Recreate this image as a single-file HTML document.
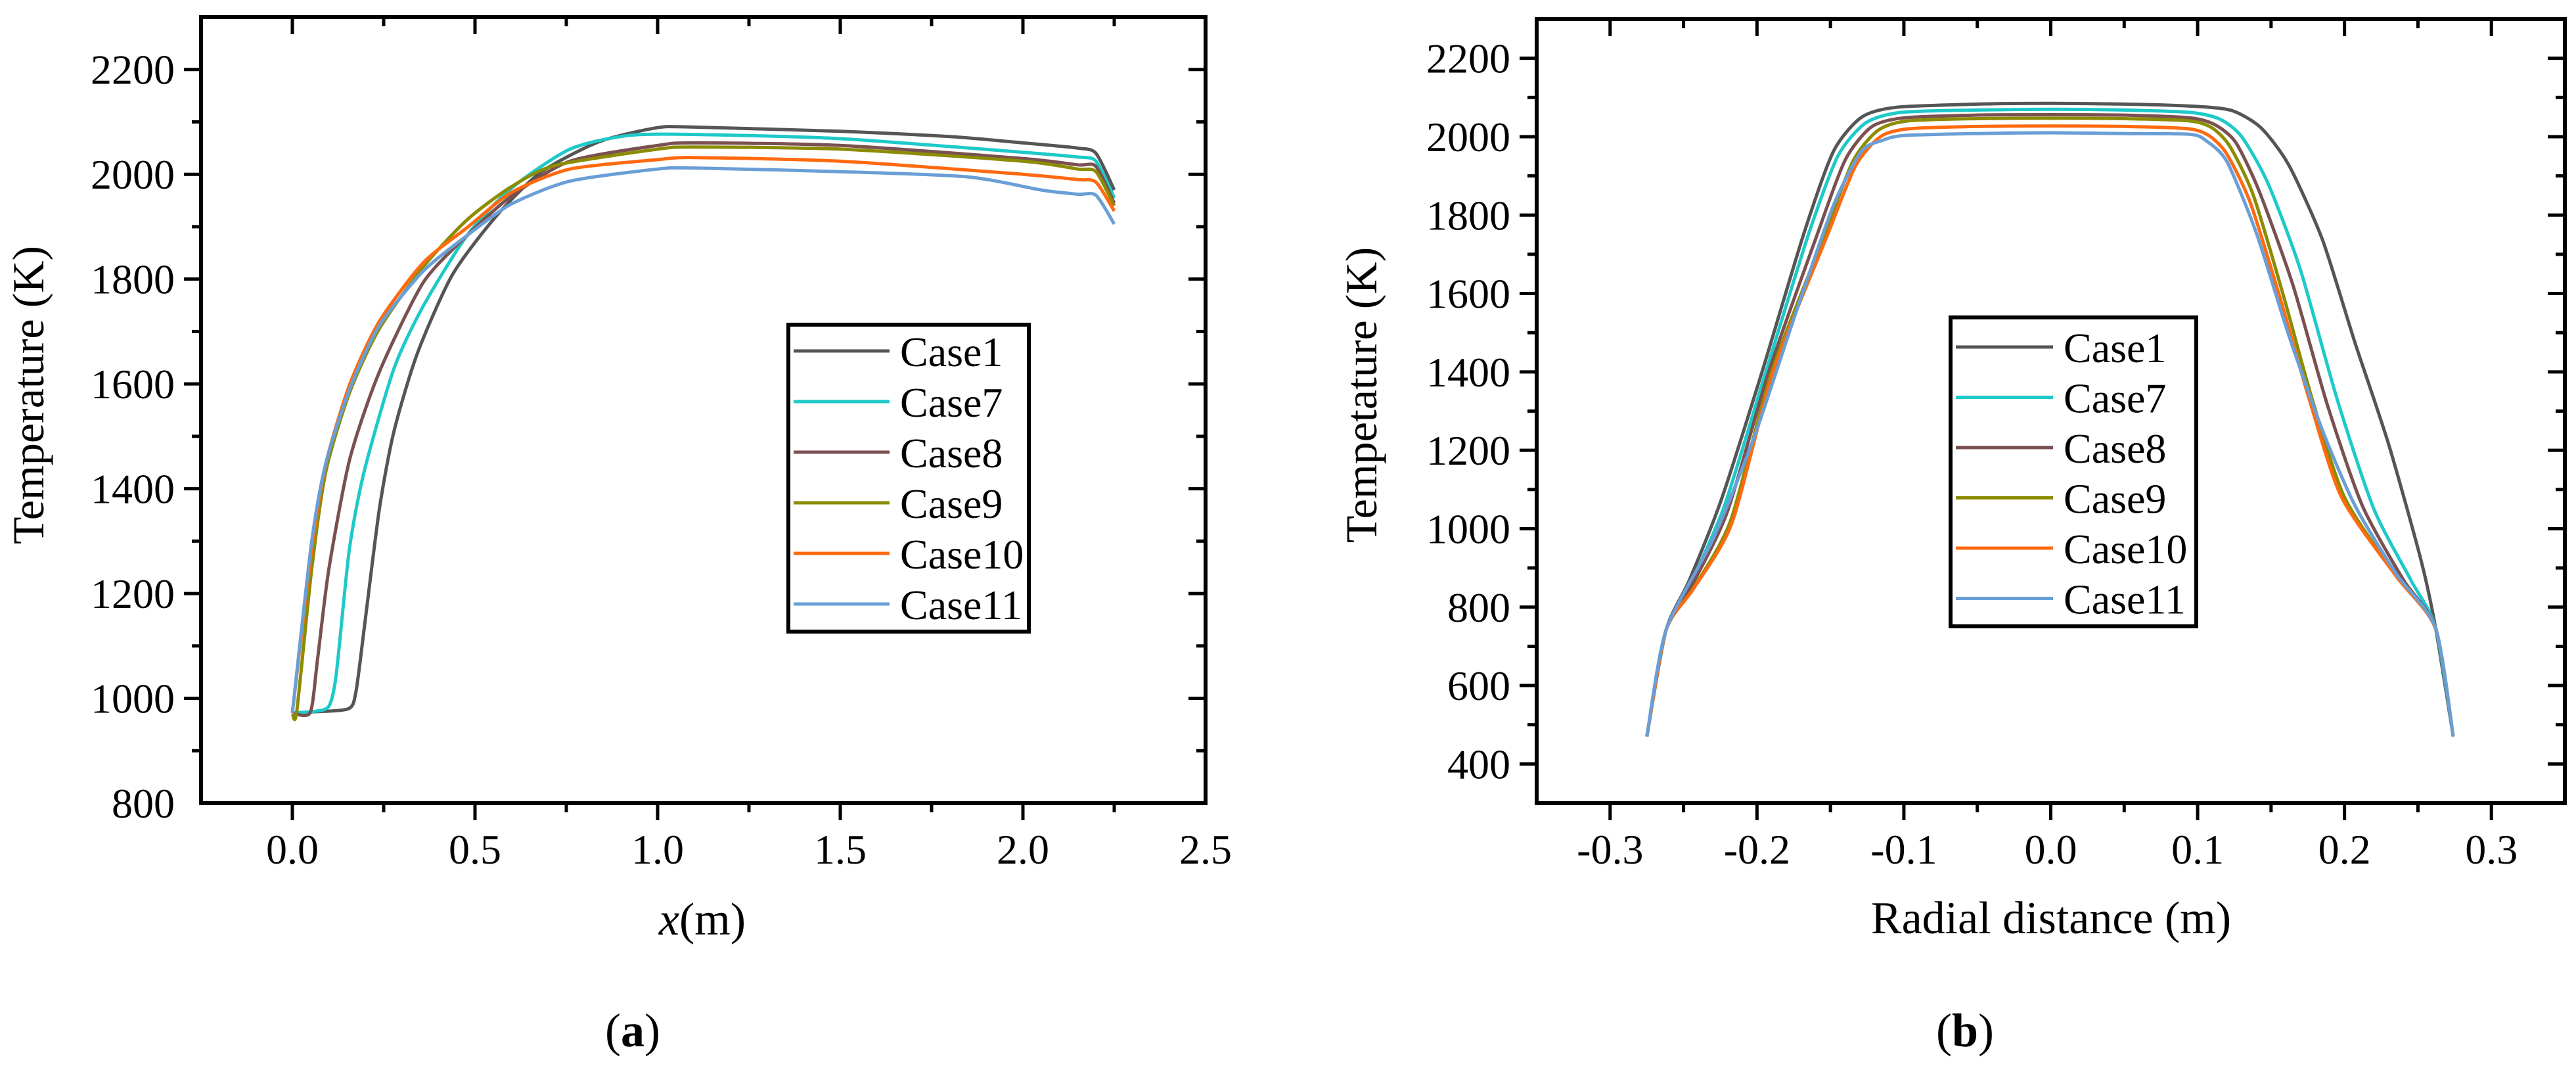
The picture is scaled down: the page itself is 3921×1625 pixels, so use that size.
<!DOCTYPE html>
<html>
<head>
<meta charset="utf-8">
<style>
html,body{margin:0;padding:0;background:#fff;}
svg{display:block;}
text{font-family:"Liberation Serif",serif;fill:#000;}
</style>
</head>
<body>
<svg id="fig" width="3921" height="1625" viewBox="0 0 3921 1625" xmlns="http://www.w3.org/2000/svg"></svg>
<script>
// ---------- Data: panel (a) temperature along x ----------
const seriesNames = ["Case1","Case7","Case8","Case9","Case10","Case11"];
const seriesColors = ["#555555","#1ec9c9","#7a5050","#8c8c00","#ff6a10","#6a9ed6"];

const aX_case1 = [0,0.05,0.153,0.174,0.197,0.238,0.278,0.342,0.438,0.558,0.679,0.839,1.0,1.1,1.5,1.8,2.0,2.15,2.2,2.25];
const aT_case1 = [972,974,980,1012,1135,1360,1509,1658,1808,1920,2003,2062,2089,2090,2082,2072,2060,2050,2040,1970];
const aX_case7 = [0,0.06,0.10,0.12,0.156,0.197,0.278,0.358,0.478,0.599,0.76,0.92,1.1,1.5,2.0,2.15,2.2,2.25];
const aT_case7 = [972,975,985,1045,1284,1434,1629,1748,1883,1973,2048,2074,2076,2068,2042,2033,2025,1955];
const aX_case8 = [0,0.049,0.069,0.10,0.157,0.237,0.358,0.478,0.599,0.76,1.0,1.1,1.5,2.0,2.15,2.2,2.25];
const aT_case8 = [972,973,1075,1247,1456,1621,1793,1883,1958,2025,2055,2060,2055,2030,2018,2015,1945];
const aX_case9 = [0,0.012,0.053,0.092,0.157,0.237,0.358,0.478,0.599,0.72,1.0,1.1,1.5,2.0,2.15,2.2,2.25];
const aT_case9 = [972,975,1247,1434,1584,1704,1823,1913,1976,2017,2048,2052,2048,2025,2010,2005,1940];
const aX_case10 = [0,0.053,0.092,0.157,0.237,0.358,0.478,0.599,0.76,1.0,1.1,1.5,2.0,2.15,2.2,2.25];
const aT_case10 = [972,1284,1449,1599,1718,1831,1898,1965,2010,2028,2032,2025,2000,1990,1985,1930];
const aX_case11 = [0,0.053,0.092,0.157,0.237,0.358,0.478,0.599,0.76,1.0,1.1,1.5,1.85,2.05,2.15,2.2,2.25];
const aT_case11 = [972,1300,1450,1590,1710,1815,1883,1943,1987,2010,2012,2005,1995,1970,1962,1960,1905];

// ---------- Data: panel (b) radial temperature ----------
const bX_case1 = [-0.275,-0.262,-0.246,-0.224,-0.196,-0.168,-0.148,-0.129,-0.105,-0.05,0,0.05,0.095,0.123,0.143,0.162,0.185,0.207,0.230,0.252,0.262,0.274];
const bT_case1 = [470,740,869,1077,1407,1754,1962,2049,2075,2083,2085,2083,2078,2067,2023,1928,1737,1476,1216,921,747,470];
const bX_case7 = [-0.275,-0.262,-0.245,-0.222,-0.194,-0.165,-0.145,-0.126,-0.102,-0.05,0,0.05,0.095,0.115,0.13,0.148,0.17,0.195,0.22,0.245,0.262,0.274];
const bT_case7 = [470,740,862,1060,1400,1750,1950,2035,2062,2068,2070,2068,2062,2045,2000,1880,1660,1330,1050,870,747,470];
const bX_case8 = [-0.275,-0.262,-0.244,-0.22,-0.192,-0.16,-0.14,-0.122,-0.1,-0.05,0,0.05,0.095,0.112,0.126,0.142,0.165,0.188,0.212,0.24,0.262,0.274];
const bT_case8 = [470,740,858,1045,1400,1740,1940,2025,2048,2055,2056,2055,2048,2030,1985,1860,1620,1320,1060,870,747,470];
const bX_case9 = [-0.275,-0.262,-0.243,-0.218,-0.19,-0.155,-0.135,-0.118,-0.098,-0.05,0,0.05,0.095,0.11,0.122,0.138,0.158,0.178,0.2,0.235,0.262,0.274];
const bT_case9 = [470,740,850,1020,1400,1740,1935,2015,2040,2046,2047,2046,2040,2022,1975,1850,1600,1330,1080,880,745,470];
const bX_case10 = [-0.275,-0.262,-0.243,-0.217,-0.189,-0.153,-0.133,-0.116,-0.097,-0.05,0,0.05,0.094,0.108,0.12,0.136,0.156,0.176,0.198,0.235,0.262,0.274];
const bT_case10 = [470,740,848,1015,1400,1740,1925,2000,2020,2026,2027,2026,2020,2002,1955,1830,1590,1330,1080,880,745,470];
const bX_case11 = [-0.275,-0.262,-0.23,-0.202,-0.174,-0.148,-0.129,-0.115,-0.1,-0.05,0,0.05,0.095,0.106,0.12,0.14,0.162,0.185,0.207,0.235,0.262,0.274];
const bT_case11 = [470,740,973,1233,1546,1824,1962,1990,2003,2008,2010,2008,2006,1989,1936,1754,1494,1251,1060,886,747,470];

const aXTicks = [0,0.5,1.0,1.5,2.0,2.5];
const aXTickLabels = ["0.0","0.5","1.0","1.5","2.0","2.5"];
const aYTicks = [800,1000,1200,1400,1600,1800,2000,2200];
const bXTicks = [-0.3,-0.2,-0.1,0,0.1,0.2,0.3];
const bXTickLabels = ["-0.3","-0.2","-0.1","0.0","0.1","0.2","0.3"];
const bYTicks = [400,600,800,1000,1200,1400,1600,1800,2000,2200];

const NS = "http://www.w3.org/2000/svg";
const svg = document.getElementById("fig");
function mk(tag, attrs, parent){
  const e = document.createElementNS(NS, tag);
  for (const k in attrs) e.setAttribute(k, attrs[k]);
  (parent||svg).appendChild(e);
  return e;
}
function smoothPath(pts, k){
  let d = "M" + pts[0][0].toFixed(1) + " " + pts[0][1].toFixed(1);
  for (let i=0;i<pts.length-1;i++){
    const p0 = pts[Math.max(0,i-1)], p1 = pts[i], p2 = pts[i+1], p3 = pts[Math.min(pts.length-1,i+2)];
    const c1x = p1[0] + (p2[0]-p0[0])*k, c1y = p1[1] + (p2[1]-p0[1])*k;
    const c2x = p2[0] - (p3[0]-p1[0])*k, c2y = p2[1] - (p3[1]-p1[1])*k;
    d += " C" + c1x.toFixed(1)+" "+c1y.toFixed(1)+" "+c2x.toFixed(1)+" "+c2y.toFixed(1)+" "+p2[0].toFixed(1)+" "+p2[1].toFixed(1);
  }
  return d;
}

function drawPanel(cfg){
  const g = mk("g", {});
  
  
  const L=cfg.L,R=cfg.R,T=cfg.T,B=cfg.B;
  const sx = v => L + (v-cfg.xmin)/(cfg.xmax-cfg.xmin)*(R-L);
  const sy = v => B - (v-cfg.ymin)/(cfg.ymax-cfg.ymin)*(B-T);

  const sg = mk("g", {}, g);
  
  
  cfg.xs.forEach((xs, i) => {
    const ts = cfg.ts[i];
    const pts = xs.map((x,j)=>[sx(x), sy(ts[j])]);
    const p = mk("path", {d:smoothPath(pts, 0.12), fill:"none", stroke:seriesColors[i], "stroke-width":5, "stroke-linejoin":"round"}, sg);
    
    
  });

  const fr = mk("rect", {x:L,y:T,width:R-L,height:B-T,fill:"none",stroke:"#000","stroke-width":6}, g);
  
  

  const tg = mk("g", {stroke:"#000","stroke-width":5}, g);
  
  
  for (let v=cfg.xmin; v<=cfg.xmax+1e-9; v+=cfg.xminor){
    const x = sx(v);
    const major = cfg.xTicks.some(t=>Math.abs(t-v)<1e-6);
    const len = major?26:14;
    if (x < L+2 || x > R-2) continue;
    mk("line",{x1:x,y1:B,x2:x,y2:B+len},tg);
    mk("line",{x1:x,y1:T,x2:x,y2:T+len},tg);
  }
  for (let v=cfg.ymin; v<=cfg.ymax+1e-9; v+=100){
    const y = sy(v);
    const major = cfg.yTicks.includes(Math.round(v));
    const len = major?26:14;
    if (y > B-2 || y < T+2) continue;
    mk("line",{x1:L,y1:y,x2:L-len,y2:y},tg);
    mk("line",{x1:R,y1:y,x2:R-len,y2:y},tg);
  }
  cfg.xTicks.forEach((v,i)=>{
    const t = mk("text",{x:sx(v),y:B+92,"font-size":64,"text-anchor":"middle"},g);
    t.textContent = cfg.xLabels[i];
    
    
  });
  cfg.yTicks.forEach(v=>{
    const t = mk("text",{x:L-40,y:sy(v)+22,"font-size":64,"text-anchor":"end"},g);
    t.textContent = String(v);
    
    
  });

  const lg = mk("g",{},g);
  
  
  mk("rect",{x:cfg.leg.x,y:cfg.leg.y,width:cfg.leg.w,height:cfg.leg.h,fill:"#fff",stroke:"#000","stroke-width":6},lg);
  seriesNames.forEach((n,i)=>{
    const y = cfg.leg.y0 + i*cfg.leg.dy;
    const e = mk("g",{},lg);
    
    
    mk("line",{x1:cfg.leg.lx1,y1:y,x2:cfg.leg.lx2,y2:y,stroke:seriesColors[i],"stroke-width":5},e);
    const t = mk("text",{x:cfg.leg.tx,y:y+23,"font-size":64},e);
    t.textContent = n;
  });
}

drawPanel({name:"panel-a-chart",L:306,R:1835,T:26,B:1222,xmin:-0.25,xmax:2.5,ymin:800,ymax:2300,xminor:0.25,
  xTicks:aXTicks,xLabels:aXTickLabels,yTicks:aYTicks,
  xs:[aX_case1,aX_case7,aX_case8,aX_case9,aX_case10,aX_case11],
  ts:[aT_case1,aT_case7,aT_case8,aT_case9,aT_case10,aT_case11],
  leg:{x:1200,y:494,w:366,h:467,y0:534,dy:77,lx1:1208,lx2:1354,tx:1370}});

drawPanel({name:"panel-b-chart",L:2339,R:3904,T:29,B:1222,xmin:-0.35,xmax:0.35,ymin:300,ymax:2300,xminor:0.05,
  xTicks:bXTicks,xLabels:bXTickLabels,yTicks:bYTicks,
  xs:[bX_case1,bX_case7,bX_case8,bX_case9,bX_case10,bX_case11],
  ts:[bT_case1,bT_case7,bT_case8,bT_case9,bT_case10,bT_case11],
  leg:{x:2969,y:483,w:374,h:470,y0:528,dy:76.5,lx1:2977,lx2:3125,tx:3141}});
</script>
<svg style="position:absolute;left:0;top:0" width="3921" height="1625" xmlns="http://www.w3.org/2000/svg">
  <text transform="translate(66,601) rotate(-90)" font-size="68" text-anchor="middle" style="font-family:'Liberation Serif',serif">Temperature (K)</text>
  <text x="1069" y="1422" font-size="70" text-anchor="middle" style="font-family:'Liberation Serif',serif"><tspan font-style="italic">x</tspan>(m)</text>
  <text x="963" y="1592" font-size="72" text-anchor="middle" style="font-family:'Liberation Serif',serif">(<tspan font-weight="bold">a</tspan>)</text>
  <text transform="translate(2095,601) rotate(-90)" font-size="68" text-anchor="middle" style="font-family:'Liberation Serif',serif">Tempetature (K)</text>
  <text x="3122" y="1420" font-size="70" text-anchor="middle" style="font-family:'Liberation Serif',serif">Radial distance (m)</text>
  <text x="2991" y="1592" font-size="72" text-anchor="middle" style="font-family:'Liberation Serif',serif">(<tspan font-weight="bold">b</tspan>)</text>
</svg>
</body>
</html>
